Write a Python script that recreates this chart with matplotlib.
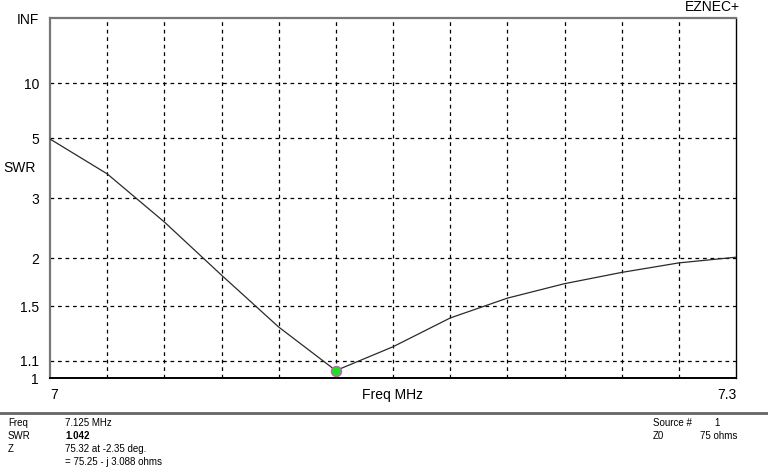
import numpy as np
import matplotlib
matplotlib.use('Agg')
from matplotlib import pyplot as plt

plt.rcParams['font.family'] = ['Liberation Sans', 'DejaVu Sans']

# SWR sweep
freq = [7.0, 7.025, 7.05, 7.075, 7.1, 7.125, 7.15, 7.175, 7.2, 7.225, 7.25, 7.275, 7.3]
swr = [4.95, 3.62, 2.53, 1.80, 1.33, 1.042, 1.19, 1.40, 1.57, 1.71, 1.83, 1.94, 2.01]

cursor_freq = 7.125
cursor_swr = 1.042

swr_ticks = [1, 1.1, 1.5, 2, 3, 5, 10]
swr_ticklabels = ['1', '1.1', '1.5', '2', '3', '5', '10']

info_left = [('Freq', '7.125 MHz'), ('SWR', '1.042'), ('Z', '75.32 at -2.35 deg.'), ('', '= 75.25 - j 3.088 ohms')]
info_right = [('Source #', '1'), ('Z0', '75 ohms')]


def rho(s):
    # EZNEC plots SWR on a reflection-coefficient scale
    s = np.asarray(s, dtype=float)
    return (s - 1) / (s + 1)


fig = plt.figure(figsize=(7.68, 4.73), dpi=100)
W, H = 768, 473
ax = fig.add_axes([50 / W, 95 / H, 686 / W, 360 / H])

ax.plot(freq, rho(swr), color='#2a2a2a', lw=0.9, zorder=3)
ax.scatter([cursor_freq], rho([cursor_swr]), s=55, color='#22dd22', edgecolors='#dd44dd', linewidths=0.8, zorder=4)

ax.set_xlim(7.0, 7.3)
ax.set_ylim(0, 1)

# grid
for f in np.arange(7.025, 7.299, 0.025):
    ax.axvline(f, color='black', lw=0.9, ls=(0, (3, 3)), zorder=1)
for s in swr_ticks[1:]:
    ax.axhline(rho(s), color='black', lw=0.9, ls=(0, (3, 3)), zorder=1)

ax.set_yticks(list(rho(swr_ticks)) + [1.0])
ax.set_yticklabels(swr_ticklabels + ['INF'], fontsize=10)
ax.set_xticks([])
ax.tick_params(axis='y', length=0, pad=8)

for side in ['left', 'top']:
    ax.spines[side].set_color('#777777')
    ax.spines[side].set_linewidth(1.6)
ax.spines['bottom'].set_color('black')
ax.spines['bottom'].set_linewidth(1.4)
ax.spines['right'].set_color('black')
ax.spines['right'].set_linewidth(1.0)

fig.text(3 / W, 1 - 168 / H, 'SWR', fontsize=10, va='center', ha='left')
fig.text(1 - 28 / W, 1 - 7 / H, 'EZNEC+', fontsize=10, va='center', ha='right')
fig.text(50 / W, 1 - 395 / H, '7', fontsize=10, va='center', ha='left')
fig.text(362 / W, 1 - 395 / H, 'Freq MHz', fontsize=10, va='center', ha='left')
fig.text(736 / W, 1 - 395 / H, '7.3', fontsize=10, va='center', ha='right')

# info panel
fig.add_artist(plt.Line2D([0, 1], [1 - 413 / H] * 2, color='#666666', lw=2))
for i, (k, v) in enumerate(info_left):
    y = 1 - (423 + 13 * i) / H
    fig.text(8 / W, y, k, fontsize=7, va='center')
    fig.text(65 / W, y, v, fontsize=7, va='center', weight='bold' if k == 'SWR' else 'normal')
for i, (k, v) in enumerate(info_right):
    y = 1 - (423 + 13 * i) / H
    fig.text(653 / W, y, k, fontsize=7, va='center')
    fig.text((714 if i == 0 else 700) / W, y, v, fontsize=7, va='center')

fig.savefig('out.png', dpi=100)
